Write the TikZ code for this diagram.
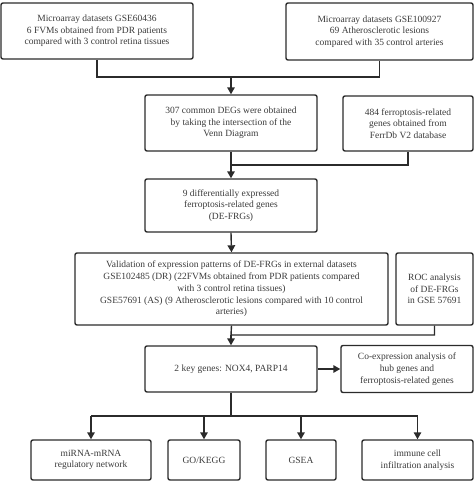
\documentclass[tikz,border=0pt]{standalone}
\usepackage{fontspec}
\setmainfont{Liberation Serif}
\usetikzlibrary{arrows.meta}
\definecolor{ln}{HTML}{2B2B2B}
\definecolor{tx}{HTML}{3A3A3A}
\begin{document}
\begin{tikzpicture}[x=1pt,y=-1pt,
  box/.style={draw=ln,line width=1.4pt,rounded corners=2pt,align=center,inner sep=0pt,
    text=tx,font=\fontsize{9.5}{11.7}\selectfont},
  conn/.style={draw=ln,line width=1.4pt},
  arr/.style={conn,-{Triangle[length=7pt,width=7.5pt]}}]
\useasboundingbox (0,0) rectangle (474,482);
\node[box,minimum width=192pt,minimum height=56pt] (b1) at (97,31) {Microarray datasets GSE60436\\6 FVMs obtained from PDR patients\\compared with 3 control retina tissues};
\node[box,minimum width=187pt,minimum height=57pt] (b2) at (379.5,31.5) {Microarray datasets GSE100927\\69 Atherosclerotic lesions\\compared with 35 control arteries};
\node[box,minimum width=172pt,minimum height=56pt] (b3) at (231,123) {307 common DEGs were obtained\\by taking the intersection of the\\Venn Diagram};
\node[box,minimum width=130pt,minimum height=55pt] (b4) at (408,123.5) {484 ferroptosis-related\\genes obtained from\\FerrDb V2 database};
\node[box,minimum width=172pt,minimum height=53pt] (b5) at (231,205.5) {9 differentially expressed\\ferroptosis-related genes\\(DE-FRGs)};
\node[box,minimum width=313pt,minimum height=72pt] (b6) at (231.5,289) {Validation of expression patterns of DE-FRGs in external datasets\\GSE102485 (DR) (22FVMs obtained from PDR patients compared\\with 3 control retina tissues)\\GSE57691 (AS) (9 Atherosclerotic lesions compared with 10 control\\arteries)};
\node[box,minimum width=77pt,minimum height=72pt] (b7) at (434.5,289) {ROC analysis\\of DE-FRGs\\in GSE 57691};
\node[box,minimum width=172pt,minimum height=46pt] (b8) at (231,369) {2 key genes: NOX4, PARP14};
\node[box,minimum width=132pt,minimum height=47pt] (b9) at (407,369) {Co-expression analysis of\\hub genes and\\ferroptosis-related genes};
\node[box,minimum width=120pt,minimum height=40pt] (ba) at (91,460) {miRNA-mRNA\\regulatory network};
\node[box,minimum width=72pt,minimum height=40pt] (bb) at (204,460) {GO/KEGG};
\node[box,minimum width=70pt,minimum height=40pt] (bc) at (301,460) {GSEA};
\node[box,minimum width=111pt,minimum height=40pt] (bd) at (417.5,460) {immune cell\\infiltration analysis};
\coordinate (j1) at (231,77);
\coordinate (j2) at (231,165);
\coordinate (j3) at (231,335);
\coordinate (j4) at (231,416);
\draw[conn] (b1.south) -- (b1.south |- j1) -- (b2.south |- j1) -- (b2.south);
\draw[arr] (j1) -- (b3.north);
\draw[conn] (b3.south) -- (j2) -- (b4.south |- j2) -- (b4.south);
\draw[arr] (j2) -- (b5.north);
\draw[arr] (b5.south) -- (b6.north);
\draw[conn] (b6.south) -- (j3) -- (b7.south |- j3) -- (b7.south);
\draw[arr] (j3) -- (b8.north);
\draw[arr] (b8.east) -- (b9.west);
\draw[conn] (b8.south) -- (j4);
\draw[conn] (ba.north |- j4) -- (bd.north |- j4);
\draw[arr] (ba.north |- j4) -- (ba.north);
\draw[arr] (bb.north |- j4) -- (bb.north);
\draw[arr] (bc.north |- j4) -- (bc.north);
\draw[arr] (bd.north |- j4) -- (bd.north);
\end{tikzpicture}
\end{document}
